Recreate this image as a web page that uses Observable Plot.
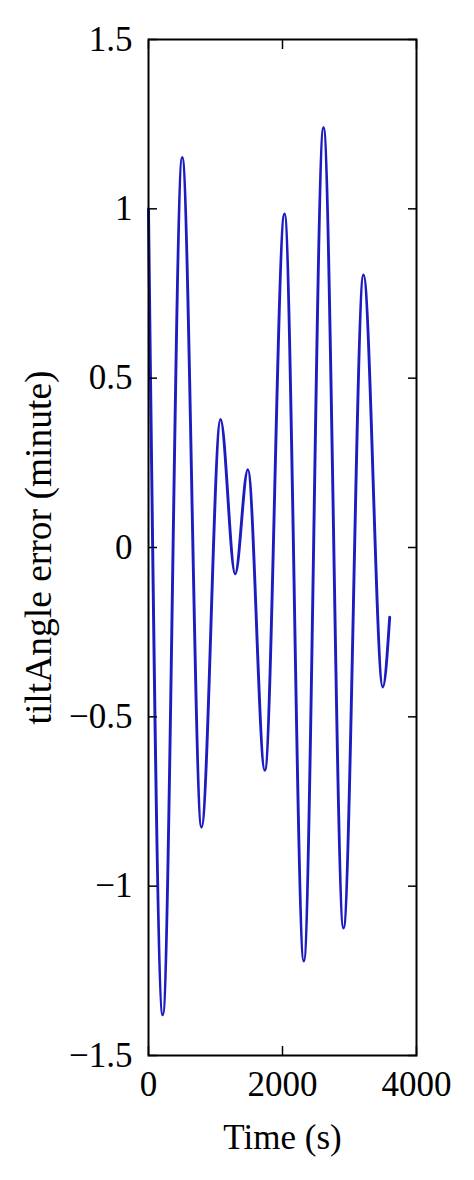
<!DOCTYPE html>
<html>
<head>
<meta charset="utf-8">
<script src="https://cdn.jsdelivr.net/npm/d3@7"></script>
<script src="https://cdn.jsdelivr.net/npm/@observablehq/plot@0.6"></script>
<style>html,body{margin:0;padding:0;background:#fff;}</style>
</head>
<body>
<div id="chart"></div>
<script>
const timeSec  = [0, 213, 503, 791, 1075, 1294, 1483, 1736, 2030, 2318, 2612, 2910, 3209, 3497, 3600];
const tiltErr  = [1.0, -1.38, 1.152, -0.826, 0.378, -0.078, 0.23, -0.658, 0.985, -1.221, 1.24, -1.124, 0.805, -0.412, -0.206];
const xTicks = [0, 2000, 4000];
const yTicks = [-1.5, -1, -0.5, 0, 0.5, 1, 1.5];
const xLabel = "Time (s)";
const yLabel = "tiltAngle error (minute)";

const data = timeSec.map((t, i) => ({t, e: tiltErr[i]}));
const fmt = d => d < 0 ? "\u2212" + Math.abs(d) : String(d);

const chart = Plot.plot({
  width: 474,
  height: 1180,
  marginLeft: 148,
  marginRight: 58,
  marginTop: 39,
  marginBottom: 125,
  style: {fontFamily: "'Liberation Serif', serif", background: "#fff", color: "#000"},
  x: {domain: [0, 4000]},
  y: {domain: [-1.5, 1.5]},
  marks: [
    Plot.line(data, {x: "t", y: "e", curve: "monotone-x", stroke: "#1c1cc0", strokeWidth: 2.9}),
    Plot.axisY(yTicks, {anchor: "left", tickSize: -9, tickPadding: 25, tickFormat: fmt, fontSize: 35, label: null, strokeWidth: 1.5}),
    Plot.axisY(yTicks, {anchor: "right", tickSize: -9, tickFormat: () => "", label: null, strokeWidth: 1.5}),
    Plot.axisX(xTicks, {anchor: "bottom", tickSize: -9, tickPadding: 25, tickFormat: fmt, fontSize: 35, label: null, strokeWidth: 1.5}),
    Plot.axisX(xTicks, {anchor: "top", tickSize: -9, tickFormat: () => "", label: null, strokeWidth: 1.5}),
    Plot.frame({stroke: "#000", strokeWidth: 2}),
    Plot.text([xLabel], {frameAnchor: "bottom", dy: 93, lineAnchor: "bottom", textAnchor: "middle", fontSize: 35, text: d => d, fill: "#000"}),
    Plot.text([yLabel], {frameAnchor: "left", dx: -98, rotate: -90, lineAnchor: "bottom", textAnchor: "middle", fontSize: 37.5, text: d => d, fill: "#000"})
  ]
});
document.getElementById("chart").appendChild(chart);
</script>
</body>
</html>
